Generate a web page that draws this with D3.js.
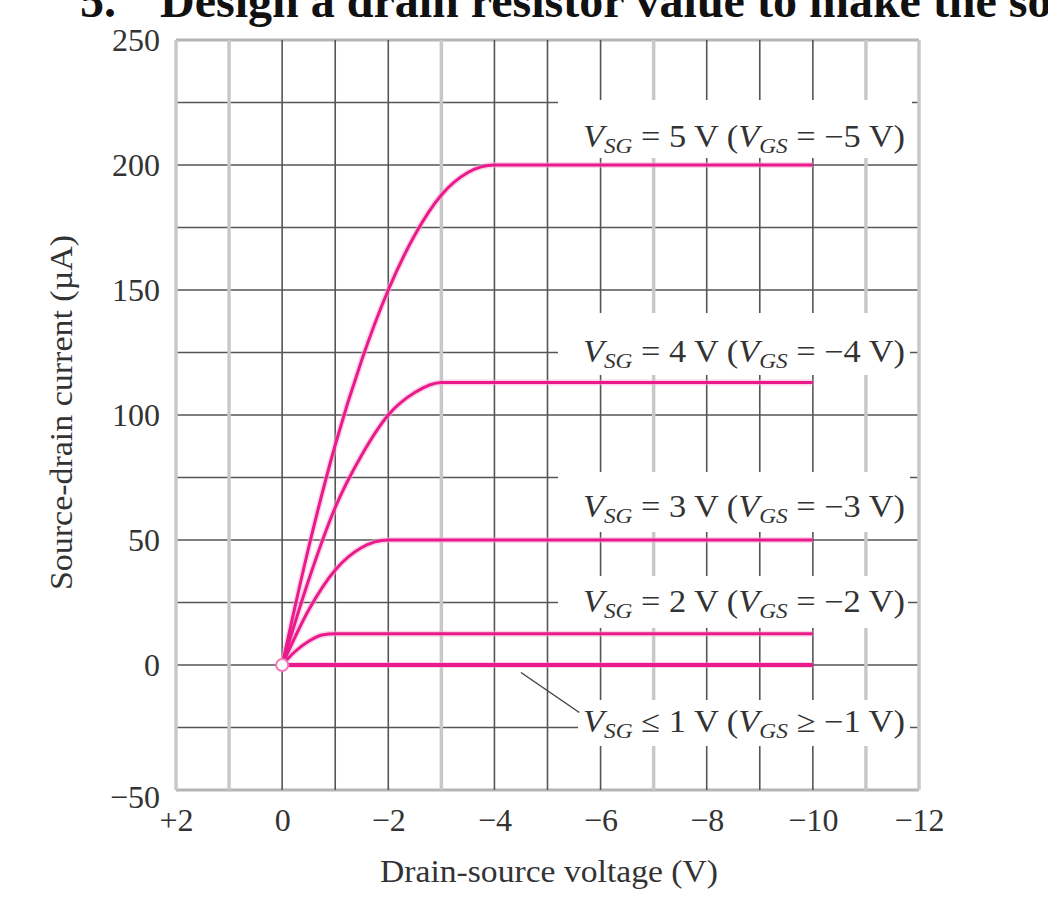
<!DOCTYPE html>
<html>
<head>
<meta charset="utf-8">
<script src="https://cdn.jsdelivr.net/npm/d3@7"></script>
<style>
  body { margin: 0; background: #fff; }
  svg { display: block; font-family: 'Liberation Serif', 'Times New Roman', serif; }
</style>
</head>
<body>
<svg class="chart" width="1048" height="918"></svg>
<script>
// tick values
const xTicks = [2, 0, -2, -4, -6, -8, -10, -12]
const yTicks = [-50, 0, 50, 100, 150, 200, 250]
const xGrid = d3.range(2, -12.5, -1)
const yGrid = d3.range(-50, 251, 25)
const lightX = [2, 1, -3, -7, -11, -12]

// curves (V_SD, I_SD in uA)
const vsg = [5, 4, 3, 2, 1]
const curve5 = [[0, 0], [-0.5, 47], [-1, 88], [-1.5, 122], [-2, 150], [-2.5, 172], [-3, 188], [-3.5, 197], [-4, 200], [-10, 200]]
const curve4 = [[0, 0], [-0.5, 34], [-1, 63], [-1.5, 84], [-2, 100], [-2.5, 109], [-3, 113], [-10, 113]]
const curve3 = [[0, 0], [-0.5, 22], [-1, 38], [-1.5, 47], [-2, 50], [-10, 50]]
const curve2 = [[0, 0], [-0.25, 5.5], [-0.5, 9.5], [-0.75, 12], [-1, 12.5], [-10, 12.5]]
const curve1 = [[0, 0], [-10, 0]]
const curves = [curve5, curve4, curve3, curve2, curve1]

const pink = '#ea1a8c'
const svg = d3.select('.chart')

// question text, cut off by the top edge like in the scan
const title = svg.append('g')
  .attr('font-size', 48).attr('font-weight', 'bold').attr('fill', '#111')
title.append('text').attr('x', 80).attr('y', 17).text('5.')
title.append('text').attr('x', 160).attr('y', 17)
  .text('Design a drain resistor value to make the source-drain current')

const x = d3.scaleLinear().domain([2, -12]).range([176, 919])
const y = d3.scaleLinear().domain([-50, 250]).range([790, 40])

// grid
const grid = svg.append('g')
grid.selectAll('.hl')
  .data(yGrid)
  .enter()
  .append('line')
  .attr('x1', x(2)).attr('x2', x(-12))
  .attr('y1', d => y(d)).attr('y2', d => y(d))
  .attr('stroke', d => (d === -50 || d === 250) ? '#b5b5b5' : '#555')
  .attr('stroke-width', d => (d === -50 || d === 250) ? 3 : 1.6)
grid.selectAll('.vl')
  .data(xGrid)
  .enter()
  .append('line')
  .attr('y1', y(-50)).attr('y2', y(250))
  .attr('x1', d => x(d)).attr('x2', d => x(d))
  .attr('stroke', d => lightX.includes(d) ? '#c8c8c8' : '#555')
  .attr('stroke-width', d => lightX.includes(d) ? 3.5 : 1.6)

// white boxes behind the curve labels
const boxes = [[558, 100, 354, 58], [558, 313, 352, 62], [558, 472, 352, 60], [558, 576, 350, 52], [578, 700, 332, 46]]
svg.append('g').selectAll('rect')
  .data(boxes)
  .enter()
  .append('rect')
  .attr('x', d => d[0]).attr('y', d => d[1])
  .attr('width', d => d[2]).attr('height', d => d[3])
  .attr('fill', '#fff')

// axes labels
const xAxis = svg.append('g')
  .attr('transform', `translate(0,${y(-50)})`)
  .call(d3.axisBottom(x).tickValues(xTicks).tickSize(0).tickPadding(18)
    .tickFormat(d => d > 0 ? '+' + d : d3.format('')(d).replace('-', '\u2212')))
xAxis.select('.domain').remove()
xAxis.selectAll('text').attr('font-size', 32).attr('fill', '#333').attr('font-family', 'Liberation Serif')

const yAxis = svg.append('g')
  .attr('transform', 'translate(160,0)')
  .call(d3.axisLeft(y).tickValues(yTicks).tickSize(0).tickPadding(0)
    .tickFormat(d => String(d).replace('-', '\u2212')))
yAxis.select('.domain').remove()
yAxis.selectAll('text').attr('font-size', 32).attr('fill', '#333').attr('font-family', 'Liberation Serif')
yAxis.selectAll('.tick').filter(d => d === -50).select('text').attr('dy', '0.55em')

svg.append('text')
  .attr('x', 380).attr('y', 882)
  .attr('font-size', 31).attr('fill', '#333')
  .attr('textLength', 338).attr('lengthAdjust', 'spacingAndGlyphs')
  .text('Drain-source voltage (V)')

svg.append('text')
  .attr('transform', 'translate(72,590) rotate(-90)')
  .attr('font-size', 31).attr('fill', '#333')
  .attr('textLength', 355).attr('lengthAdjust', 'spacingAndGlyphs')
  .text('Source-drain current (\u00b5A)')

// curves
const line = d3.line()
  .x(d => x(d[0]))
  .y(d => y(d[1]))
  .curve(d3.curveMonotoneX)

const curveG = svg.append('g')
curveG.selectAll('.halo')
  .data(curves)
  .enter()
  .append('path')
  .attr('d', line)
  .attr('fill', 'none')
  .attr('stroke', '#f6a9d0')
  .attr('stroke-width', 6)
  .attr('stroke-opacity', 0.5)
curveG.selectAll('.curve')
  .data(curves)
  .enter()
  .append('path')
  .attr('d', line)
  .attr('fill', 'none')
  .attr('stroke', pink)
  .attr('stroke-width', (d, i) => i === 4 ? 4 : 3)

// open circle at the origin
svg.append('circle')
  .attr('cx', x(0)).attr('cy', y(0)).attr('r', 6)
  .attr('fill', '#fff').attr('stroke', '#f07ab8').attr('stroke-width', 2)

// leader line for the lowest label
svg.append('line')
  .attr('x1', x(-4.5)).attr('y1', y(-3))
  .attr('x2', x(-5.6)).attr('y2', y(-19))
  .attr('stroke', '#444').attr('stroke-width', 1.5)

// curve labels
const labelY = [211, 125, 63, 25, -23]
const labels = svg.append('g')
vsg.forEach(function (v, i) {
  const t = labels.append('text')
    .attr('x', 583).attr('y', y(labelY[i]))
    .attr('dy', '0.3em')
    .attr('font-size', 31).attr('fill', '#333')
    .attr('textLength', 322).attr('lengthAdjust', 'spacingAndGlyphs')
  const rel = v === 1 ? ' \u2264 ' : ' = '
  const rel2 = v === 1 ? ' \u2265 ' : ' = '
  t.append('tspan').attr('font-style', 'italic').text('V')
  t.append('tspan').attr('font-style', 'italic').attr('font-size', 21).attr('dy', '0.3em').text('SG')
  t.append('tspan').attr('dy', '-0.2em').text(rel + v + ' V (')
  t.append('tspan').attr('font-style', 'italic').text('V')
  t.append('tspan').attr('font-style', 'italic').attr('font-size', 21).attr('dy', '0.3em').text('GS')
  t.append('tspan').attr('dy', '-0.2em').text(rel2 + '\u2212' + v + ' V)')
})
</script>
</body>
</html>
